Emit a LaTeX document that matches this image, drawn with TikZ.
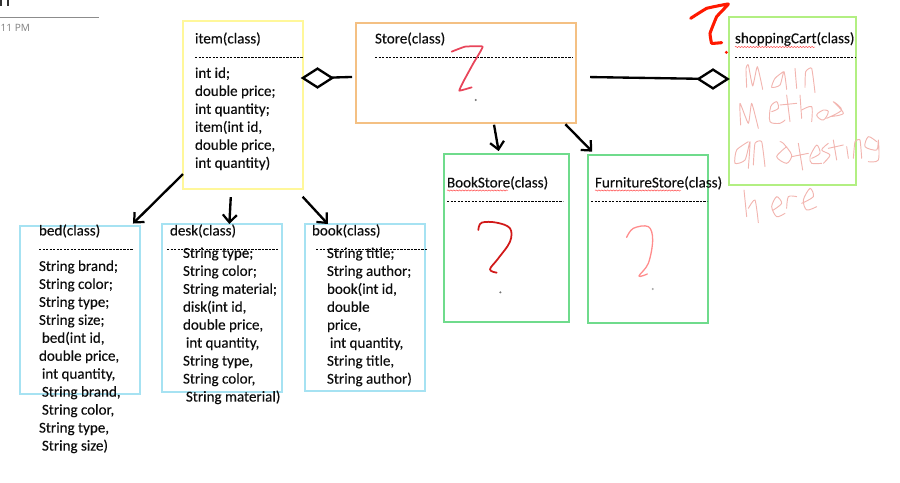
\documentclass[tikz,border=0pt]{standalone}
\usepackage{fontspec}
\setmainfont[FakeBold=0.25]{Carlito}
\newfontfamily\stampfont{Open Sans}
\usetikzlibrary{positioning,arrows.meta,calc,shapes.geometric,decorations.pathmorphing}
\definecolor{itemyellow}{HTML}{FFF79A}
\definecolor{storeorange}{HTML}{F4C083}
\definecolor{shopgreen}{HTML}{6FDB8C}
\definecolor{cartgreen}{HTML}{B2EF82}
\definecolor{bedblue}{HTML}{A6E2F2}
\definecolor{inkred}{HTML}{E8455A}
\definecolor{inkpale}{HTML}{F2B5B0}
\newcommand{\ind}{\hspace*{2.5pt}}
\tikzset{
  classbox/.style={draw,line width=1.7pt,inner sep=0pt,outer sep=0pt},
  classtext/.style={inner sep=0pt,outer sep=0pt,align=left,text=black!95,font=\fontsize{12.85}{15.33}\selectfont},
  sepline/.style={line width=0.6pt,dash pattern=on 2pt off 1pt},
  redwave/.style={red!75,line width=0.4pt,decorate,decoration={snake,amplitude=0.5pt,segment length=2.5pt}},
  flow/.style={line width=2pt,-{Straight Barb[length=6.5pt,width=12pt,line width=1.9pt]}},
  joinline/.style={line width=2pt},
  aggr/.style={diamond,draw,line width=2pt,inner sep=0pt,outer sep=0pt,minimum width=25pt,minimum height=16pt},
  scrawl/.style={inkpale,line width=0.8pt,line cap=round,line join=round},
  qmark/.style={line width=1.5pt,line cap=round,line join=round}
}
\begin{document}
\begin{tikzpicture}[x=0.03cm,y=-0.03cm]
  \useasboundingbox (0,0) rectangle (900,483);

  % Draw the corner of the window
  \draw[black!45,line width=0.8pt] (0,17) -- (99,17);
  \draw[black!80,line width=1pt] (1,0) -- (1,6) (8,0) -- (8,6);
  \node[anchor=west,inner sep=0pt,text=black!50,font=\stampfont\fontsize{8.6}{9}\selectfont] (stamp) at (0.5,28) {11 PM};

  % Draw the boxes
  \node[classbox,draw=itemyellow,minimum width=3.6cm,minimum height=5.04cm] (item) at (243,105) {};
  \node[classbox,draw=storeorange,minimum width=6.6cm,minimum height=3cm] (store) at (466,73) {};
  \node[classbox,draw=shopgreen,minimum width=3.75cm,minimum height=5.04cm] (bookstore) at (506.5,238) {};
  \node[classbox,draw=shopgreen,minimum width=3.6cm,minimum height=5.04cm] (furniture) at (648,239) {};
  \node[classbox,draw=cartgreen,minimum width=3.81cm,minimum height=5.04cm] (cart) at (792.5,101) {};
  \node[classbox,draw=bedblue,minimum width=3.6cm,minimum height=5.04cm] (bed) at (80,310) {};
  \node[classbox,draw=bedblue,minimum width=3.6cm,minimum height=5.04cm] (desk) at (222,308) {};
  \node[classbox,draw=bedblue,minimum width=3.6cm,minimum height=5.01cm] (book) at (365,307.5) {};

  % Draw the titles
  \node[classtext,anchor=west] (itemtitle) at (195,39) {item(class)};
  \node[classtext,anchor=west] (storetitle) at (375,39) {Store(class)};
  \node[classtext,anchor=west] (bookstoretitle) at (447,183) {BookStore(class)};
  \node[classtext,anchor=west] (furnituretitle) at (595,183) {FurnitureStore(class)};
  \node[classtext,anchor=west] (carttitle) at (735,39) {shoppingCart(class)};
  \node[classtext,anchor=west] (bedtitle) at (39,231) {bed(class)};
  \node[classtext,anchor=west] (desktitle) at (170,231) {desk(class)};
  \node[classtext,anchor=west] (booktitle) at (312,231) {book(class)};

  % Draw the red waves under the titles
  \draw[redwave] (447,190.5) -- (508,190.5);
  \draw[redwave] (595,190.5) -- (681,190.5);
  \draw[redwave] (735,47) -- (815,47);

  % Draw the separators
  \draw[sepline] (195,57) -- (303,57);
  \draw[sepline] (375,57) -- (572,57);
  \draw[sepline] (447,201) -- (563,201);
  \draw[sepline] (591,201) -- (707,201);
  \draw[sepline] (735,57) -- (856,57);
  \draw[sepline] (39,249) -- (133,249);
  \draw[sepline] (167,249) -- (278,249);
  \draw[sepline] (316,249) -- (427,249);

  % Draw the members
  \node[classtext,anchor=north west] (itembody) at (195,67.5) {int id;\\double price;\\int quantity;\\item(int id,\\double price,\\int quantity)};
  \node[classtext,anchor=north west] (bedbody) at (39,260.5) {String brand;\\String color;\\String type;\\String size;\\\ind bed(int id,\\double price,\\\ind int quantity,\\\ind String brand,\\\ind String color,\\String type,\\\ind String size)};
  \node[classtext,anchor=north west] (deskbody) at (183,247.5) {String type;\\String color;\\String material;\\disk(int id,\\double price,\\\ind int quantity,\\String type,\\String color,\\\ind String material)};
  \node[classtext,anchor=north west] (bookbody) at (327,247.5) {String title;\\String author;\\book(int id,\\double\\price,\\\ind int quantity,\\String title,\\String author)};

  % Draw the diamonds
  \node[aggr] (itemjoin) at (317.5,78) {};
  \node[aggr] (cartjoin) at (713,79) {};

  % Draw the edges
  \draw[joinline,shorten >=3.4pt] (itemjoin) -- (store.182);
  \draw[joinline,shorten <=12pt] (store.-2) -- (cartjoin);
  \draw[flow,shorten >=3pt] (item.229) -- (bed.59);
  \draw[flow,shorten <=7pt] (item.262) -- (desk.85);
  \draw[flow,shorten <=9pt] (item.-58) -- (book.114);
  \draw[flow,shorten <=1.5pt,shorten >=2.5pt] (store.-61) -- (bookstore.95);
  \draw[flow,shorten <=1.5pt,shorten >=4pt] (store.-27) -- (furniture.122);

  % Draw the question marks
  \begin{scope}[shift={(340,0)},scale=1/3]
    \draw[qmark,inkred] plot[smooth,tension=0.2] coordinates {(335,155) (375,140) (428,140) (400,190) (370,245) (358,272) (395,262)};
    \fill[black!55] (407,300) circle (3.5);
  \end{scope}
  \begin{scope}[shift={(290,170)},scale=1/3]
    \draw[qmark,red!80!black!90] plot[smooth,tension=0.6] coordinates {(565,180) (575,158) (620,158) (660,175) (660,215) (625,265) (600,298) (620,308)};
    \fill[black!55] (631,367) circle (3.5);
    \draw[qmark,line width=1.1pt,red!45] plot[smooth,tension=0.6] coordinates {(1010,202) (1030,175) (1075,170) (1088,210) (1075,280) (1047,318) (1072,312)};
    \fill[black!35] (1088,357) circle (3.5);
  \end{scope}
  \begin{scope}[shift={(620,0)},scale=1/3]
    \draw[qmark,line width=2.6pt,red!80!orange] plot[smooth,tension=0.12] coordinates {(212,55) (260,25) (325,12) (290,50) (270,100) (275,130) (305,128)};
    \fill[red!80!orange] (319,157) circle (5);

    % main
    \draw[scrawl] plot[tension=0.3,smooth] coordinates {(380,262) (378,205) (385,195) (398,258) (412,200) (428,268)};
    \draw[scrawl] plot[tension=0.4,smooth] coordinates {(490,215) (465,235) (455,262) (480,255) (492,215) (500,268)};
    \draw[scrawl] (525,205) -- (530,265);
    \draw[scrawl] plot[tension=0.3,smooth] coordinates {(555,262) (557,215) (575,205) (585,278)};
    % method
    \draw[scrawl] plot[tension=0.3,smooth] coordinates {(362,375) (360,310) (385,370) (395,310) (415,385)};
    \draw[scrawl] plot[tension=0.5,smooth] coordinates {(455,335) (475,325) (470,305) (452,320) (450,365) (480,370) (495,360)};
    \draw[scrawl] (500,285) -- (510,365) (480,315) -- (530,310);
    \draw[scrawl] (540,285) -- (545,355);
    \draw[scrawl] plot[tension=0.5,smooth] coordinates {(545,330) (575,320) (575,365)};
    \draw[scrawl] plot[tension=0.7,smooth] coordinates {(610,330) (590,345) (610,360) (625,335) (610,330)};
    \draw[scrawl] plot[tension=0.5,smooth] coordinates {(620,355) (665,330) (640,305) (670,340) (630,350)};
    % and testing
    \draw[scrawl] plot[tension=0.4,smooth] coordinates {(385,425) (350,450) (345,490) (375,480) (390,425) (385,505)};
    \draw[scrawl] plot[tension=0.3,smooth] coordinates {(400,495) (405,430) (425,425) (435,500)};
    \draw[scrawl] plot[tension=0.5,smooth] coordinates {(500,440) (470,470) (500,490) (515,465) (490,430) (480,425)};
    \draw[scrawl] (535,430) -- (548,510) (515,470) -- (565,460);
    \draw[scrawl] plot[tension=0.5,smooth] coordinates {(575,475) (600,460) (590,435) (570,470) (575,490) (605,490)};
    \draw[scrawl] plot[tension=0.5,smooth] coordinates {(625,430) (605,450) (630,465) (610,490)};
    \draw[scrawl] (640,420) -- (650,480) (625,445) -- (670,435) (680,440) -- (685,475);
    \draw[scrawl] plot[tension=0.3,smooth] coordinates {(700,475) (705,425) (720,420) (725,475)};
    \draw[scrawl] plot[tension=0.5,smooth] coordinates {(770,425) (745,410) (735,440) (770,450) (775,420) (775,480) (745,485)};
    % here
    \draw[scrawl] (372,570) -- (380,650);
    \draw[scrawl] plot[tension=0.4,smooth] coordinates {(385,625) (405,600) (415,668)};
    \draw[scrawl] plot[tension=0.5,smooth] coordinates {(460,630) (485,610) (470,590) (455,620) (470,650) (495,640)};
    \draw[scrawl] plot[tension=0.5,smooth] coordinates {(500,625) (505,590) (530,590)};
    \draw[scrawl] plot[tension=0.5,smooth] coordinates {(545,610) (580,590) (570,565) (550,600) (560,630) (590,620)};
  \end{scope}
\end{tikzpicture}
\end{document}
